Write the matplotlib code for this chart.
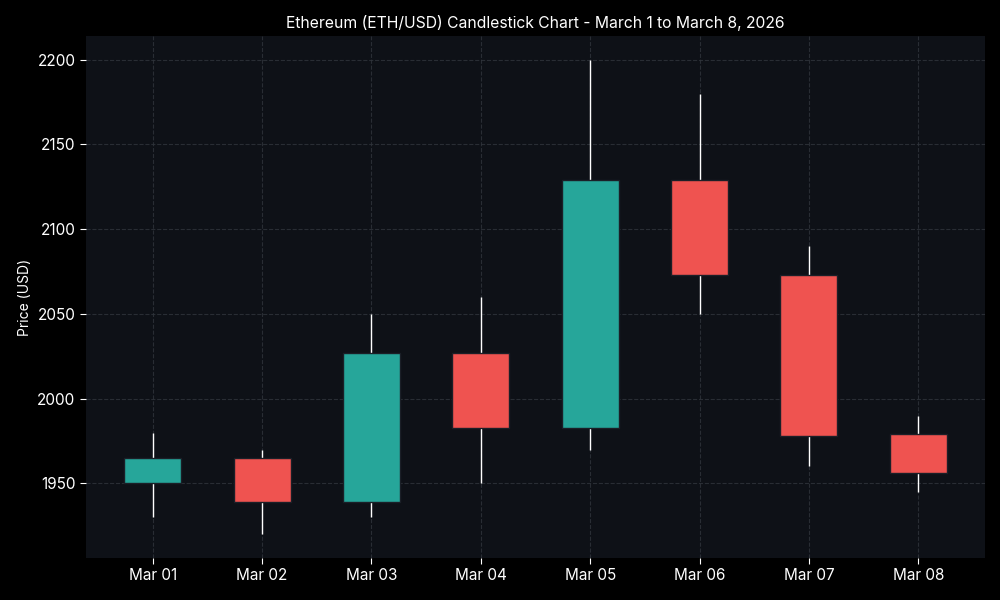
import matplotlib
matplotlib.use("Agg")
import matplotlib.pyplot as plt
from matplotlib.patches import Rectangle

dates = ["Mar 01", "Mar 02", "Mar 03", "Mar 04", "Mar 05", "Mar 06", "Mar 07", "Mar 08"]
opens = [1950, 1965, 1939, 2027, 1983, 2129, 2073, 1979]
highs = [1980, 1970, 2050, 2060, 2200, 2180, 2090, 1990]
lows = [1930, 1920, 1930, 1950, 1970, 2050, 1960, 1945]
closes = [1965, 1939, 2027, 1983, 2129, 2073, 1978, 1956]

plt.rcParams['font.family'] = ['Inter', 'DejaVu Sans']

UP = "#26a69a"
DOWN = "#ef5350"

fig = plt.figure(figsize=(10, 6), dpi=100, facecolor="black")
ax = fig.add_axes([0.086, 0.07, 0.899, 0.87])
ax.set_facecolor("#0e1117")

width = 0.52
for i, (o, h, l, c) in enumerate(zip(opens, highs, lows, closes)):
    color = UP if c >= o else DOWN
    ax.vlines(i, l, h, color="white", linewidth=1, zorder=2)
    ax.add_patch(Rectangle((i - width / 2, min(o, c)), width, abs(c - o),
                           facecolor=color, edgecolor="#1b1f27", linewidth=1, zorder=3))

ax.set_xlim(-0.61, 7.61)
ax.set_ylim(1906, 2214)
ax.set_xticks(range(len(dates)))
ax.set_xticklabels(dates)
ax.set_yticks([1950, 2000, 2050, 2100, 2150, 2200])
ax.tick_params(colors="white", labelsize=11, length=4)
for s in ax.spines.values():
    s.set_visible(False)
ax.grid(True, color="#30353c", linestyle="--", linewidth=0.8, alpha=0.8)
ax.set_axisbelow(True)
ax.set_ylabel("Price (USD)", color="white", fontsize=10)
ax.set_title("Ethereum (ETH/USD) Candlestick Chart - March 1 to March 8, 2026", color="white", fontsize=11.3, pad=6)

fig.savefig("out.png", dpi=100, facecolor="black")
